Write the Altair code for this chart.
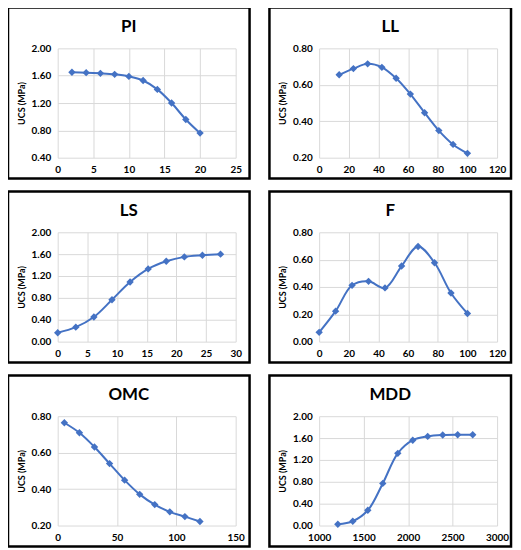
import pandas as pd
import altair as alt

FONT = "Lato"
BLUE = "#4472C4"

# data
pi_x = [2, 4, 6, 8, 10, 12, 14, 16, 18, 20]
pi_y = [1.65, 1.645, 1.635, 1.62, 1.59, 1.53, 1.40, 1.20, 0.96, 0.76]

ll_x = [13.5, 23.1, 32.7, 42.3, 51.9, 61.5, 71.1, 80.7, 90.3, 100]
ll_y = [0.655, 0.689, 0.715, 0.696, 0.636, 0.549, 0.447, 0.349, 0.273, 0.224]

ls_x = [0, 3.05, 6.1, 9.15, 12.2, 15.25, 18.3, 21.35, 24.4, 27.45]
ls_y = [0.163, 0.265, 0.45, 0.765, 1.09, 1.33, 1.47, 1.55, 1.58, 1.60]

f_x = [0, 11.1, 22.2, 33.3, 44.4, 55.6, 66.7, 77.8, 88.9, 100]
f_y = [0.068, 0.223, 0.412, 0.441, 0.393, 0.553, 0.696, 0.577, 0.356, 0.206]

omc_x = [5.6, 18.3, 31.0, 43.7, 56.4, 69.1, 81.8, 94.5, 107.2, 119.9]
omc_y = [0.764, 0.709, 0.631, 0.54, 0.449, 0.371, 0.315, 0.275, 0.249, 0.222]

mdd_x = [1210, 1378, 1547, 1715, 1884, 2052, 2220, 2389, 2557, 2726]
mdd_y = [0.024, 0.079, 0.279, 0.77, 1.32, 1.56, 1.63, 1.655, 1.66, 1.66]

# axis ticks
ticks_x_25 = [0, 5, 10, 15, 20, 25]
ticks_x_30 = [0, 5, 10, 15, 20, 25, 30]
ticks_x_120 = [0, 20, 40, 60, 80, 100, 120]
ticks_x_150 = [0, 50, 100, 150]
ticks_x_mdd = [1000, 1500, 2000, 2500, 3000]
ticks_y_2 = [0.0, 0.4, 0.8, 1.2, 1.6, 2.0]
ticks_y_2b = [0.4, 0.8, 1.2, 1.6, 2.0]
ticks_y_08 = [0.2, 0.4, 0.6, 0.8]
ticks_y_08b = [0.0, 0.2, 0.4, 0.6, 0.8]

W = 179
H = 110


def panel(xs, ys, title, xticks, yticks):
    df = pd.DataFrame({"x": xs, "y": ys})
    x_enc = alt.X(
        "x:Q",
        scale=alt.Scale(domain=[xticks[0], xticks[-1]], nice=False, zero=False),
        axis=alt.Axis(values=xticks, format="d", title=None, labelFlush=False),
    )
    y_enc = alt.Y(
        "y:Q",
        scale=alt.Scale(domain=[yticks[0], yticks[-1]], nice=False, zero=False),
        axis=alt.Axis(values=yticks, format=".2f", title="UCS (MPa)", labelFlush=False),
    )
    base = alt.Chart(df).encode(x_enc, y_enc)
    line = base.mark_line(color=BLUE, strokeWidth=2, interpolate="catmull-rom")
    pts = base.mark_point(shape="diamond", filled=True, size=55, color=BLUE, opacity=1)

    one = alt.Chart(pd.DataFrame({"a": [0]}))
    # box round the whole panel, like the Excel chart area border
    frame = one.mark_rect(filled=False, stroke="black", strokeWidth=2.5).encode(
        x=alt.value(-50),
        x2=alt.value(W + 14),
        y=alt.value(-41),
        y2=alt.value(H + 21),
    )
    # chart title centred on the box, not on the plot area
    head = one.mark_text(
        font=FONT, fontSize=17, fontWeight="bold", color="black", baseline="middle"
    ).encode(
        x=alt.value(W / 2 - 18),
        y=alt.value(-21),
        text=alt.value(title),
    )
    return (line + pts + frame + head).properties(width=W, height=H)


row1 = alt.hconcat(
    panel(pi_x, pi_y, "PI", ticks_x_25, ticks_y_2b),
    panel(ll_x, ll_y, "LL", ticks_x_120, ticks_y_08),
    spacing=16,
)
row2 = alt.hconcat(
    panel(ls_x, ls_y, "LS", ticks_x_30, ticks_y_2),
    panel(f_x, f_y, "F", ticks_x_120, ticks_y_08b),
    spacing=16,
)
row3 = alt.hconcat(
    panel(omc_x, omc_y, "OMC", ticks_x_150, ticks_y_08),
    panel(mdd_x, mdd_y, "MDD", ticks_x_mdd, ticks_y_2),
    spacing=16,
)

chart = (
    alt.vconcat(row1, row2, row3, spacing=9)
    .properties(
        padding={"left": -2, "top": -4, "right": 0, "bottom": 0},
        background="white",
    )
    .configure_view(strokeWidth=0)
    .configure_axis(
        grid=True,
        gridColor="#D9D9D9",
        gridWidth=1,
        domain=False,
        ticks=False,
        labelFont=FONT,
        labelFontSize=10,
        labelFontWeight="bold",
        labelColor="#000000",
        labelPadding=7,
        titleFont=FONT,
        titleFontSize=9,
        titleFontWeight="bold",
        titleColor="#000000",
        titlePadding=5,
    )
)

chart.save("out.html", embed_options={"renderer": "svg", "actions": False})
